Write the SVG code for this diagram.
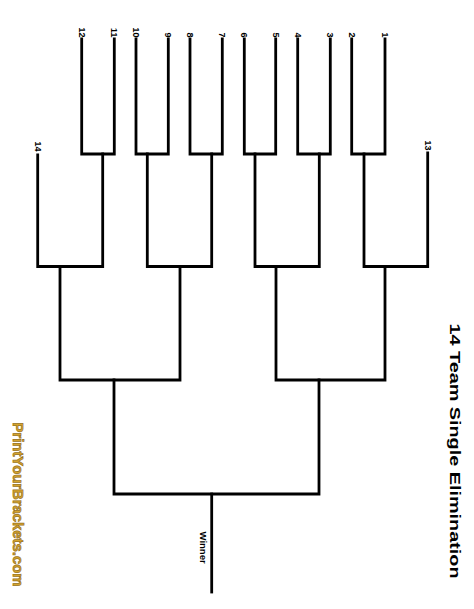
<svg xmlns="http://www.w3.org/2000/svg" width="474" height="609" viewBox="0 0 474 609">
<style>
.ln{fill:none;stroke:#000;stroke-width:2.8;stroke-linejoin:miter;stroke-linecap:square}
.num{font-family:"Liberation Sans",Arial,sans-serif;font-weight:bold;font-size:9px;fill:#000;text-anchor:end}
.title{font-family:"Liberation Sans",Arial,sans-serif;font-weight:bold;font-size:15.5px;fill:#000}
.win{font-family:"Liberation Sans",Arial,sans-serif;font-weight:bold;font-size:9.5px;fill:#000}
.wm{font-family:"Liberation Sans",Arial,sans-serif;font-weight:bold;font-size:14px;fill:#d6a42c;stroke:#9a7424;stroke-width:0.7}
</style>
<rect width="474" height="609" fill="#fff"/>
<g id="connectors">
<path class="ln" d="M81.7 39V154H114.3V39"/>
<path class="ln" d="M136 39V154H168.3V39"/>
<path class="ln" d="M190 39V154H222.3V39"/>
<path class="ln" d="M244.3 39V154H275.7V39"/>
<path class="ln" d="M297.7 39V154H330.3V39"/>
<path class="ln" d="M351.7 39V154H385V39"/>
<path class="ln" d="M37.7 155V266.5H102.7V154"/>
<path class="ln" d="M147.3 154V266.5H211.7V154"/>
<path class="ln" d="M255 154V266.5H319.3V154"/>
<path class="ln" d="M364 154V266.5H427.7V153"/>
<path class="ln" d="M60 266.5V380H180V266.5"/>
<path class="ln" d="M276 266.5V380H385V266.5"/>
<path class="ln" d="M114 380V494H319V380"/>
<path class="ln" d="M211.7 494V592"/>
</g>
<g id="team-12"><text class="num" transform="translate(78.5,37.5) rotate(90)">12</text></g>
<g id="team-11"><text class="num" transform="translate(111.1,37.5) rotate(90)">11</text></g>
<g id="team-10"><text class="num" transform="translate(132.8,37.5) rotate(90)">10</text></g>
<g id="team-9"><text class="num" transform="translate(165.1,37.5) rotate(90)">9</text></g>
<g id="team-8"><text class="num" transform="translate(186.8,37.5) rotate(90)">8</text></g>
<g id="team-7"><text class="num" transform="translate(219.1,37.5) rotate(90)">7</text></g>
<g id="team-6"><text class="num" transform="translate(241.1,37.5) rotate(90)">6</text></g>
<g id="team-5"><text class="num" transform="translate(272.5,37.5) rotate(90)">5</text></g>
<g id="team-4"><text class="num" transform="translate(294.5,37.5) rotate(90)">4</text></g>
<g id="team-3"><text class="num" transform="translate(327.1,37.5) rotate(90)">3</text></g>
<g id="team-2"><text class="num" transform="translate(348.5,37.5) rotate(90)">2</text></g>
<g id="team-1"><text class="num" transform="translate(381.8,37.5) rotate(90)">1</text></g>
<g id="team-14"><text class="num" transform="translate(34.5,151.5) rotate(90)">14</text></g>
<g id="team-13"><text class="num" transform="translate(424.5,150.5) rotate(90)">13</text></g>
<g id="winner"><text class="win" transform="translate(200,531.5) rotate(90)">Winner</text></g>
<g id="title"><text class="title" transform="translate(450,323.5) rotate(90)" textLength="255" lengthAdjust="spacingAndGlyphs">14 Team Single Elimination</text></g>
<g id="watermark"><text class="wm" transform="translate(12.5,422.5) rotate(90)" textLength="164" lengthAdjust="spacingAndGlyphs">PrintYourBrackets.com</text></g>
</svg>
